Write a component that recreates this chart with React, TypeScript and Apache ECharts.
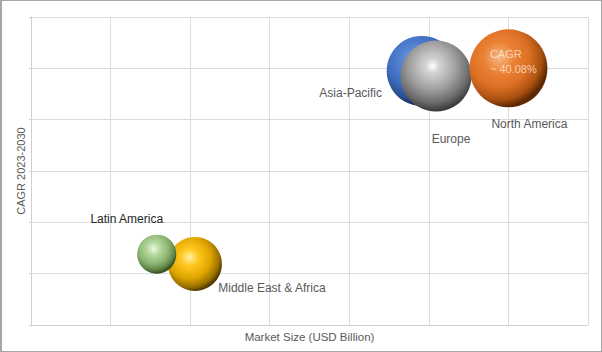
import React, { useEffect, useRef } from "react";
import * as echarts from "echarts";

const regions = ["Middle East & Africa", "Latin America", "Asia-Pacific", "Europe", "North America"];
const marketSize = [2.06, 1.58, 4.91, 5.09, 6.0];
const cagrValues = [1.19, 1.38, 4.95, 4.85, 5.0];
const bubbleValues = [27, 19.5, 35, 35.5, 39];
const cagrNote = ["CAGR", "~ 40.08%"];

const FONT = "Liberation Sans";

const sphere = (stops: [number, string][], x = 0.42, y = 0.38, r = 0.64) => ({
  type: "radial",
  x,
  y,
  r,
  colorStops: stops.map(([offset, color]) => ({ offset, color })),
});

const styles: Record<string, any> = {
  "Middle East & Africa": {
    color: sphere(
      [[0, "#FFF2A8"], [0.25, "#FFC820"], [0.6, "#E0A600"], [0.85, "#9C7200"], [1, "#4A3600"]],
      0.4, 0.38
    ),
    label: { offset: [77, 24], color: "#595959" },
  },
  "Latin America": {
    color: sphere(
      [[0, "#EEF8E6"], [0.25, "#B6DA9E"], [0.6, "#8DB672"], [0.85, "#5F8446"], [1, "#2F4A20"]],
      0.42, 0.36
    ),
    label: { offset: [-30, -35], color: "#262626" },
  },
  "Asia-Pacific": {
    color: sphere(
      [[0, "#A9C4F2"], [0.25, "#5A89DA"], [0.6, "#3F6DC0"], [0.85, "#2A4F92"], [1, "#132C5E"]],
      0.4, 0.35
    ),
    label: { offset: [-71, 22], color: "#595959" },
  },
  Europe: {
    color: sphere(
      [[0, "#FFFFFF"], [0.15, "#D4D4D4"], [0.5, "#A2A2A2"], [0.8, "#6C6C6C"], [1, "#383838"]],
      0.45, 0.36
    ),
    label: { offset: [15, 63], color: "#595959" },
  },
  "North America": {
    color: sphere(
      [[0, "#F7B888"], [0.3, "#EC8236"], [0.6, "#DC7024"], [0.85, "#A9500F"], [1, "#5E2805"]],
      0.38, 0.36
    ),
    label: { offset: [21, 55.5], color: "#595959" },
  },
};

export default function App() {
  const ref = useRef<HTMLDivElement>(null);
  useEffect(() => {
    if (!ref.current) return;
    const chart = echarts.init(ref.current, null, { renderer: "svg" });
    const data = regions.map((name, i) => ({
      name,
      value: [marketSize[i], cagrValues[i], bubbleValues[i]],
      itemStyle: {
        color: styles[name].color,
        opacity: 1,
      },
      label: {
        show: true,
        position: "inside",
        formatter: "{b}",
        fontFamily: FONT,
        fontSize: 12,
        ...styles[name].label,
      },
    }));
    const naIdx = regions.indexOf("North America");
    chart.setOption({
      animation: false,
      backgroundColor: "#fff",
      grid: { left: 29, right: 13, top: 16, bottom: 26 },
      xAxis: {
        type: "value",
        min: 0,
        max: 7,
        interval: 1,
        name: "Market Size (USD Billion)",
        nameLocation: "middle",
        nameGap: 6,
        nameTextStyle: { color: "#595959", fontSize: 11.5, fontFamily: FONT },
        axisLabel: { show: false },
        axisTick: { show: false },
        axisLine: { show: true, lineStyle: { color: "#D0D0D0", width: 1 } },
        splitLine: { show: true, lineStyle: { color: "#DCDCDC", width: 1 } },
      },
      yAxis: {
        type: "value",
        min: 0,
        max: 6,
        interval: 1,
        name: "CAGR 2023-2030",
        nameLocation: "middle",
        nameGap: 5,
        nameTextStyle: { color: "#595959", fontSize: 11, fontFamily: FONT },
        axisLabel: { show: false },
        axisTick: { show: true, length: 2, lineStyle: { color: "#D0D0D0" } },
        axisLine: { show: true, lineStyle: { color: "#D0D0D0", width: 1 } },
        splitLine: { show: true, lineStyle: { color: "#DCDCDC", width: 1 } },
      },
      series: [
        {
          type: "scatter",
          symbol: "circle",
          symbolSize: (v: number[]) => v[2] * 2,
          data,
          emphasis: { disabled: true },
        },
        {
          type: "scatter",
          symbolSize: 0,
          silent: true,
          z: 5,
          data: [
            {
              name: cagrNote.join("\n"),
              value: [marketSize[naIdx], cagrValues[naIdx]],
              label: {
                show: true,
                position: "inside",
                align: "left",
                offset: [-18.5, -7],
                formatter: "{b}",
                color: "rgba(255,238,224,0.95)",
                fontFamily: FONT,
                fontSize: 11,
                lineHeight: 15,
              },
            },
          ],
        },
      ],
    });
    return () => chart.dispose();
  }, []);
  return (
    <div
      style={{
        position: "absolute",
        left: 0,
        top: 0,
        width: 602,
        height: 352,
        boxSizing: "border-box",
        border: "1px solid #A6A6A6",
        borderLeftWidth: 2,
        background: "#fff",
      }}
    >
      <div ref={ref} style={{ width: 599, height: 350 }} />
    </div>
  );
}
